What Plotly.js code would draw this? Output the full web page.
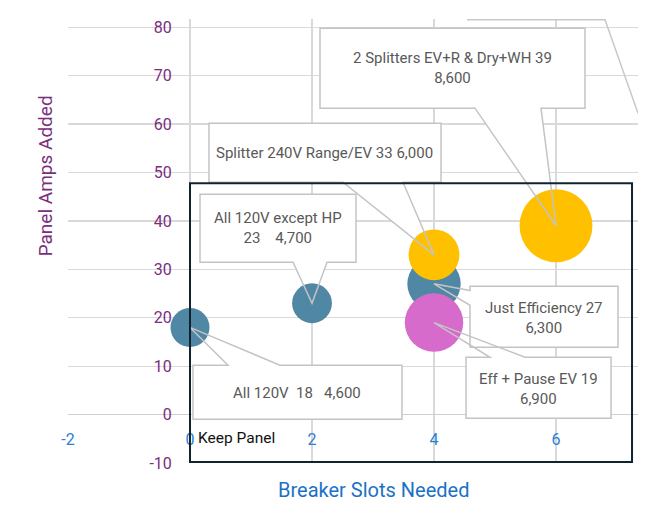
<!DOCTYPE html>
<html><head><meta charset="utf-8">
<script src="https://cdn.plot.ly/plotly-3.0.1.min.js"></script>
<style>html,body{margin:0;padding:0;background:#fff}#chart{width:672px;height:514px}</style>
</head><body><div id="chart"></div>
<script>
// ---- Data ----
const blueSlots = [0, 2, 4];
const blueAmps  = [18, 23, 27];
const blueCost  = [4600, 4700, 6300];
const yellowSlots = [4, 6];
const yellowAmps  = [33, 39];
const yellowCost  = [6000, 8600];
const pinkSlots = [4];
const pinkAmps  = [19];
const pinkCost  = [6900];
const xTickVals = [-2, 0, 2, 4, 6];
const xTickText = ["-2", "0", "2", "4", "6"];
const yTickVals = [-10, 0, 10, 20, 30, 40, 50, 60, 70, 80];
const yTickText = ["-10", "0", "10", "20", "30", "40", "50", "60", "70", "80"];
const labelAll120 = ["All 120V\u00a0\u00a018\u00a0\u00a0\u00a04,600"];
const labelExceptHP = ["All 120V except HP", "23\u00a0\u00a0\u00a0\u00a04,700"];
const labelJustEff = ["Just Efficiency 27", "6,300"];
const labelSplitter = ["Splitter 240V Range/EV 33 6,000"];
const labelTwoSplit = ["2 Splitters EV+R &amp; Dry+WH 39", "8,600"];
const labelPause = ["Eff + Pause EV 19", "6,900"];
const keepPanelLabel = "Keep Panel";
const xTitle = "Breaker Slots Needed";
const yTitle = "Panel Amps Added";

// ---- Styles ----
const BLUE = '#4f87a4', YELLOW = '#ffc000', PINK = '#d66bcc';
const GRID = '#d9d9d9';
const FONT = 'Roboto, "Open Sans", sans-serif';
const SIZEREF = 118;

const series = {
  blue: {x: blueSlots, y: blueAmps},
  yellow: {x: yellowSlots, y: yellowAmps},
  pink: {x: pinkSlots, y: pinkAmps}
};

function bubble(x, y, c, color) {
  return {type: 'scatter', mode: 'markers', x: x, y: y, hoverinfo: 'skip',
    marker: {size: c, sizemode: 'diameter', sizeref: SIZEREF, color: color, opacity: 1, line: {width: 0}}};
}
const traces = [
  bubble(blueSlots, blueAmps, blueCost, BLUE),
  bubble(yellowSlots, yellowAmps, yellowCost, YELLOW),
  bubble(pinkSlots, pinkAmps, pinkCost, PINK)
];

// callout placement (box: [x0, x1, yBottom, yTop] in axis units)
const callouts = [
  {s: 'blue', i: 0, lines: labelAll120, box: [0.049, 3.475, -0.97, 10.19], side: 'top', base: [0.623, 1.475], tc: [1.754, 4.4]},
  {s: 'blue', i: 1, lines: labelExceptHP, box: [0.164, 2.721, 31.47, 45.52], side: 'bottom', base: [1.689, 2.246], tc: [1.443, 38.5]},
  {s: 'blue', i: 2, lines: labelJustEff, box: [4.590, 7.016, 13.91, 26.51], side: 'left', base: [22.58, 25.63], tc: [5.803, 20.0]},
  {s: 'yellow', i: 0, lines: labelSplitter, box: [0.311, 4.115, 48.0, 60.19], side: 'bottom', base: [2.508, 3.492], tc: [2.205, 54.0]},
  {s: 'yellow', i: 1, lines: labelTwoSplit, box: [2.131, 6.475, 63.29, 79.81], side: 'bottom', base: [4.672, 5.754], tc: [4.303, 71.5]},
  {s: 'pink', i: 0, lines: labelPause, box: [4.525, 6.902, -0.76, 11.84], side: 'top', base: [4.918, 5.492], tc: [5.713, 5.33]}
];

function calloutPath(c) {
  const [x0, x1, yb, yt] = c.box;
  const tx = series[c.s].x[c.i], ty = series[c.s].y[c.i];
  const p = [];
  p.push([x0, yt]);
  if (c.side === 'top') { p.push([c.base[0], yt], [tx, ty], [c.base[1], yt]); }
  p.push([x1, yt]);
  p.push([x1, yb]);
  if (c.side === 'bottom') { p.push([c.base[1], yb], [tx, ty], [c.base[0], yb]); }
  p.push([x0, yb]);
  if (c.side === 'left') { p.push([x0, c.base[0]], [tx, ty], [x0, c.base[1]]); }
  return 'M ' + p.map(q => q[0] + ',' + q[1]).join(' L ') + ' Z';
}

const shapes = [];
const annotations = [];
callouts.forEach(c => {
  const path = calloutPath(c);
  shapes.push({type: 'path', path: path, xref: 'x', yref: 'y', layer: 'between', fillcolor: '#ffffff', line: {width: 0}});
  shapes.push({type: 'path', path: path, xref: 'x', yref: 'y', layer: 'above', fillcolor: 'rgba(0,0,0,0)', line: {color: '#c4c4c4', width: 1.5}});
  annotations.push({xref: 'x', yref: 'y', x: c.tc[0], y: c.tc[1], text: c.lines.join('<br>'), showarrow: false,
    xanchor: 'center', yanchor: 'middle', align: 'center', font: {family: FONT, size: 15, color: '#595959'}});
});
// partial callout outline cut off at top right
shapes.push({type: 'path', path: 'M 4.541,81.55 L 6.803,81.55 L 7.344,62.25', xref: 'x', yref: 'y', layer: 'above',
  fillcolor: 'rgba(0,0,0,0)', line: {color: '#c8c8c8', width: 1.5}});
// dark highlight rectangle
shapes.push({type: 'rect', xref: 'x', yref: 'y', x0: 0, x1: 7.246, y0: -9.8, y1: 47.79, layer: 'above',
  fillcolor: 'rgba(0,0,0,0)', line: {color: '#10232f', width: 2}});

annotations.push({xref: 'x', yref: 'y', x: 0.1, y: -4.9, xanchor: 'left', yanchor: 'middle', text: keepPanelLabel, showarrow: false,
  font: {family: FONT, size: 15.5, color: '#111111'}});
annotations.push({xref: 'paper', yref: 'y', x: -0.0404, y: 49.4, xanchor: 'center', yanchor: 'middle', text: yTitle, textangle: -90, showarrow: false,
  font: {family: FONT, size: 19, color: '#7a2e7e'}});
annotations.push({xref: 'x', yref: 'paper', x: 3.016, y: -0.0615, xanchor: 'center', yanchor: 'middle', text: xTitle, showarrow: false,
  font: {family: FONT, size: 20, color: '#1a72c6'}});

const layout = {
  width: 672, height: 514,
  margin: {l: 68, r: 34, t: 19, b: 51, pad: 0},
  paper_bgcolor: '#ffffff', plot_bgcolor: '#ffffff',
  showlegend: false, hovermode: false,
  xaxis: {range: [-2, 7.344], tickmode: 'array', tickvals: xTickVals, ticktext: xTickText, showgrid: true, gridcolor: GRID, gridwidth: 1.3,
    zeroline: true, zerolinecolor: GRID, zerolinewidth: 1.3, showline: false,
    anchor: 'free', position: 10 / 91.7, ticks: 'outside', ticklen: 10, tickcolor: 'rgba(0,0,0,0)',
    tickfont: {family: FONT, size: 16, color: '#2a7fd0'}, automargin: false, fixedrange: true},
  yaxis: {range: [-10, 81.7], tickmode: 'array', tickvals: yTickVals, ticktext: yTickText, showgrid: true, gridcolor: GRID, gridwidth: 1.3,
    zeroline: true, zerolinecolor: '#cfcfcf', zerolinewidth: 1.3, showline: false,
    anchor: 'free', position: 2 / 9.344, ticks: 'outside', ticklen: 15, tickcolor: 'rgba(0,0,0,0)',
    tickfont: {family: FONT, size: 16, color: '#7a2e7e'}, automargin: false, fixedrange: true},
  shapes: shapes,
  annotations: annotations
};

Plotly.newPlot('chart', traces, layout, {displayModeBar: false, staticPlot: true});
</script>
</body></html>
